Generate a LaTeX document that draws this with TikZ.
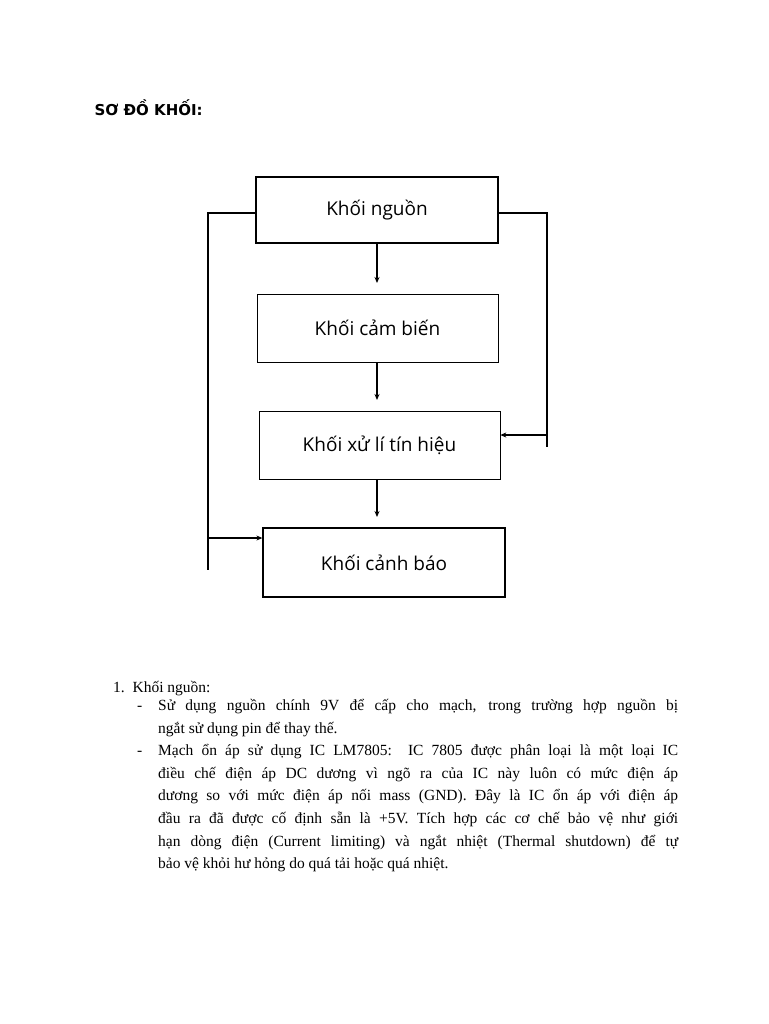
\documentclass[tikz,border=0pt]{standalone}
\usetikzlibrary{arrows.meta}
\usepackage{fontspec}
\setmainfont{Liberation Serif}
\newfontfamily\boxfont{Open Sans}
\newfontfamily\titlefont{DejaVu Sans}
\begin{document}
\begin{tikzpicture}[x=1pt,y=-1pt,
  blk/.style={draw,line width=0.6pt,font=\boxfont\fontsize{19}{23}\selectfont,inner sep=0pt},
  thick blk/.style={blk,line width=1.3pt},
  conn/.style={line width=1.2pt},
  arr/.style={conn,-{Stealth[length=6pt,width=5pt]}}]
\useasboundingbox (0,0) rectangle (768,1024);
\node[anchor=west,font=\titlefont\bfseries\fontsize{15}{18}\selectfont] (title) at (91,108) {SƠ ĐỒ KHỐI:};
\node[thick blk,minimum width=242pt,minimum height=66pt] (b1) at (377,210) {Khối nguồn};
\node[blk,minimum width=241pt,minimum height=68pt] (b2) at (377.5,328) {Khối cảm biến};
\node[blk,minimum width=241pt,minimum height=68pt] (b3) at (379.5,445) {Khối xử lí tín hiệu};
\node[thick blk,minimum width=242pt,minimum height=69pt] (b4) at (384,562.5) {Khối cảnh báo};
\coordinate (a1) at (377,283); \coordinate (a2) at (377,400); \coordinate (a3) at (377,517);
\draw[arr] (377,243) -- (a1);
\draw[arr] (377,362) -- (a2);
\draw[arr] (377,479) -- (a3);
\coordinate (l1) at (208,213); \coordinate (l2) at (208,570); \coordinate (lb) at (208,538);
\draw[conn] (b1.west |- l1) -- (l1) -- (l2);
\draw[arr] (lb) -- (b4.west |- lb);
\coordinate (r1) at (547,213); \coordinate (r2) at (547,447); \coordinate (rb) at (547,435);
\draw[conn] (b1.east |- r1) -- (r1) -- (r2);
\draw[arr] (rb) -- (b3.east |- rb);
\node[anchor=base west,font=\fontsize{15.5}{22.6}\selectfont,inner sep=0pt] (n1) at (113,692) {1.\ \ Khối nguồn:};
\node[anchor=north west,inner sep=0pt,font=\fontsize{15.5}{22.6}\selectfont] (txt) at (137,699) {%
\begin{minipage}[t]{541pt}\fontsize{15.5}{22.6}\selectfont
\hangindent=21pt\hangafter=1\makebox[21pt][l]{-}Sử dụng nguồn chính 9V để cấp cho mạch, trong trường hợp nguồn bị\linebreak ngắt sử dụng pin để thay thế.\par
\hangindent=21pt\hangafter=1\makebox[21pt][l]{-}Mạch ổn áp sử dụng IC LM7805:\ \ IC 7805 được phân loại là một loại IC\linebreak điều chế điện áp DC dương vì ngõ ra của IC này luôn có mức điện áp\linebreak dương so với mức điện áp nối mass (GND). Đây là IC ổn áp với điện áp\linebreak đầu ra đã được cố định sẵn là +5V. Tích hợp các cơ chế bảo vệ như giới\linebreak hạn dòng điện (Current limiting) và ngắt nhiệt (Thermal shutdown) để tự\linebreak bảo vệ khỏi hư hỏng do quá tải hoặc quá nhiệt.\par
\end{minipage}};
\end{tikzpicture}
\end{document}
